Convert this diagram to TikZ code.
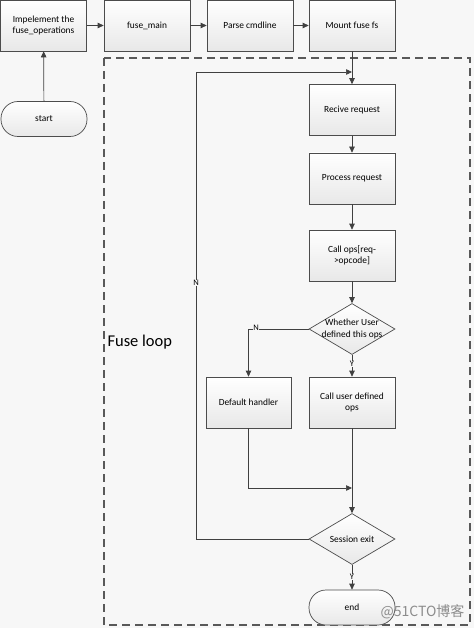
\documentclass[tikz,border=0pt]{standalone}
\usepackage{fontspec}
\setmainfont{Carlito}
\newfontfamily\cjk{Noto Sans CJK SC}
\usetikzlibrary{shapes.geometric,arrows.meta}
\begin{document}
\begin{tikzpicture}[x=1pt,y=-1pt,
  box/.style={draw=black!70, line width=0.7pt, top color=white, bottom color=black!9,
    minimum width=86pt, minimum height=51pt, align=center, inner sep=1pt,
    font=\fontsize{9.4}{11.5}\selectfont},
  term/.style={box, rounded corners=17pt, minimum height=35pt},
  dec/.style={diamond, draw=black!70, line width=0.7pt, top color=white, bottom color=black!9,
    minimum width=86pt, minimum height=51pt, inner sep=-12pt, align=center,
    font=\fontsize{9.4}{11.5}\selectfont},
  arr/.style={draw=black!75, line width=0.7pt, -{Triangle[length=6pt,width=5.5pt]}},
  lbl/.style={fill=black!3, inner sep=0.5pt, font=\fontsize{8.5}{9}\selectfont},
  frame/.style={draw=black!65, line width=1.6pt, dash pattern=on 8pt off 5pt}
]
\useasboundingbox (0,0) rectangle (474,628);
\clip (0,0) rectangle (474,628);
\fill[black!3] (0,0) rectangle (474,628);
\draw[frame] (104,58) rectangle (470,625);
\node[anchor=west, font=\fontsize{16.5}{18}\selectfont] (loop) at (104,342) {Fuse loop};

\node[box] (b1) at (43.5,25.5) {Impelement the\\fuse\_operations};
\node[box] (b2) at (147,25.5) {fuse\_main};
\node[box] (b3) at (250,25.5) {Parse cmdline};
\node[box] (b4) at (352,25.5) {Mount fuse fs};
\node[term] (start) at (44,119) {start};

\node[box] (recv) at (352,110) {Recive request};
\node[box] (proc) at (352,178.5) {Process request};
\node[box] (call) at (352,255.5) {Call ops[req-\\>opcode]};
\node[dec] (d1) at (352,329) {Whether User\\defined this ops};
\node[box] (user) at (352,402.5) {Call user defined\\ops};
\node[box, minimum width=85pt] (def) at (248.5,402.5) {Default handler};
\node[dec] (d2) at (352,539) {Session exit};
\node[term] (end) at (352,607.5) {end};

\coordinate (lp1) at (196,72);
\coordinate (lp2) at (352,72);
\coordinate (join) at (352,488);

\draw[arr] (b1) -- (b2);
\draw[arr] (b2) -- (b3);
\draw[arr] (b3) -- (b4);
\draw[arr] (start) -- (b1);
\draw[arr] (b4) -- (recv);
\draw[arr] (d2.west) -| (lp1) -- (lp2);
\draw[arr] (recv) -- (proc);
\draw[arr] (proc) -- (call);
\draw[arr] (call) -- (d1);
\draw[arr] (d1.west) -| (def.north);
\draw[arr] (d1.south) -- (user.north);
\draw[arr] (def.south) |- (join);
\draw[arr] (user.south) -- (d2.north);
\draw[arr] (d2.south) -- (end.north);

\node[lbl] (n1) at (196,283) {N};
\node[lbl] (n2) at (256,328) {N};
\node[lbl] (y1) at (352,364) {Y};
\node[lbl] (y2) at (352,577) {Y};

\node[anchor=east, text=black!45, font=\cjk\fontsize{14}{14}\selectfont] (wm) at (468,612) {@51CTO博客};
\end{tikzpicture}
\end{document}
